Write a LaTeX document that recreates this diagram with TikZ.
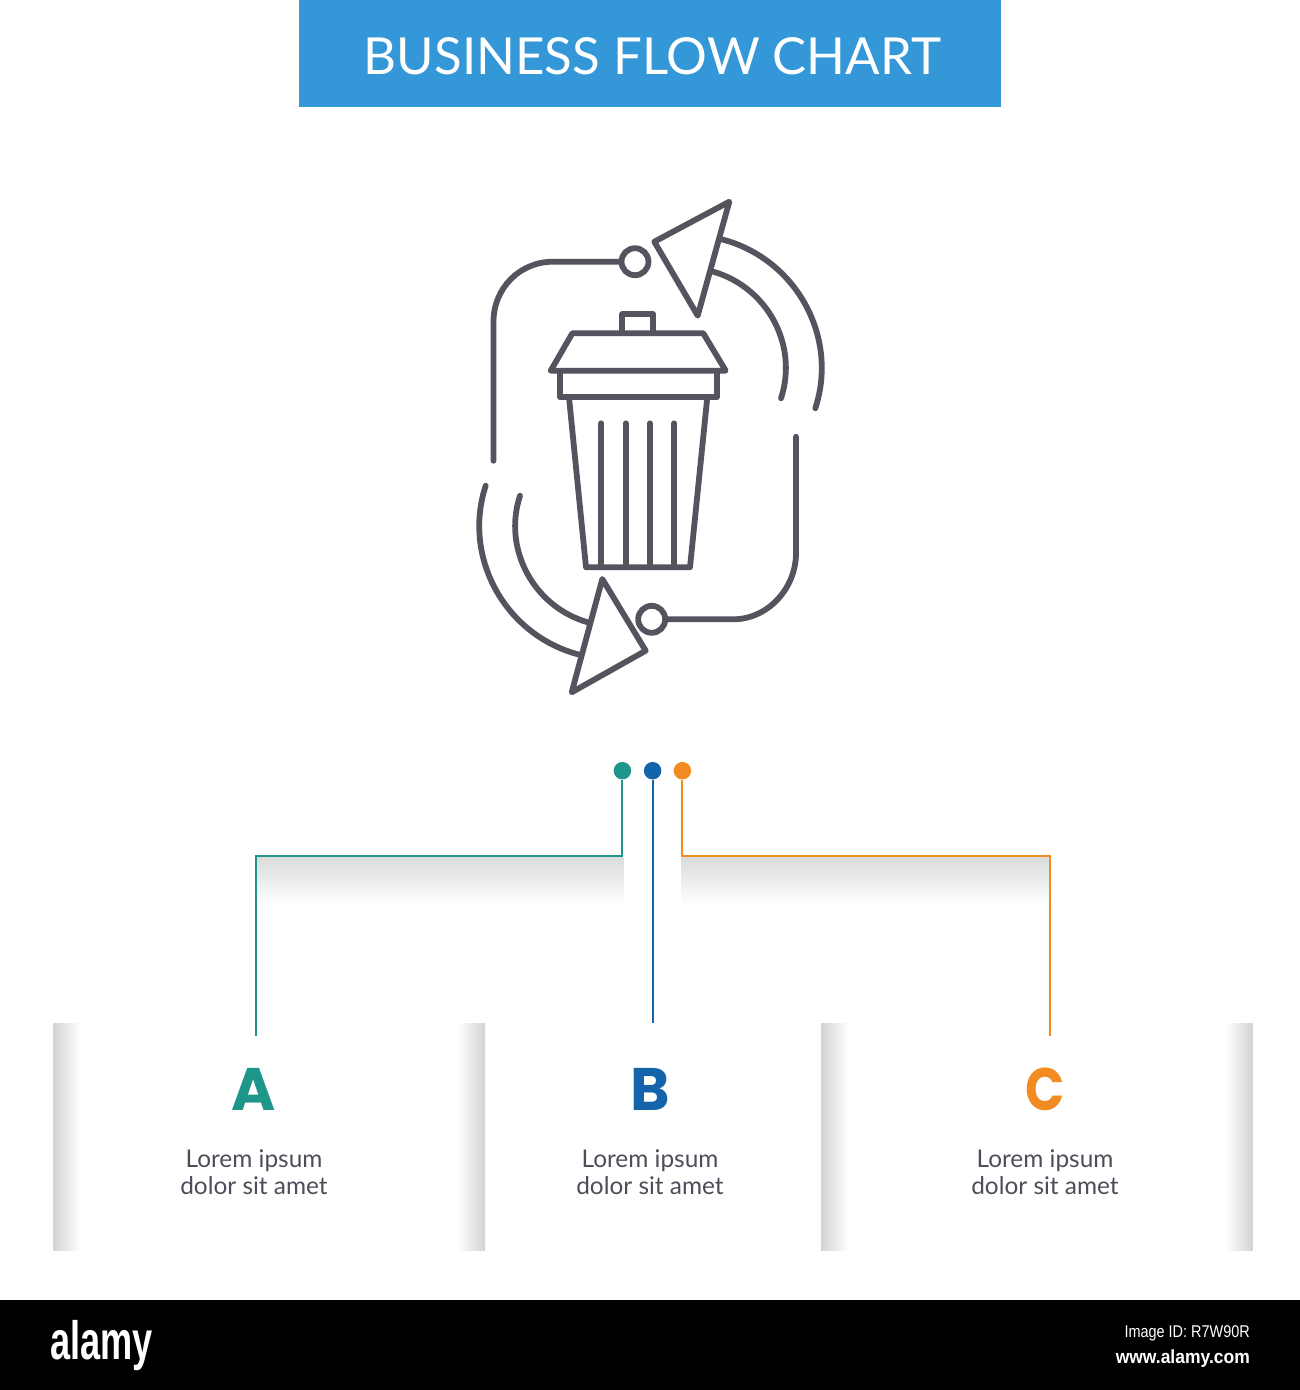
\documentclass[tikz,border=0pt]{standalone}
\usepackage{fontspec}
\setmainfont{Lato}
\newfontfamily\liberation{Liberation Sans}
\newfontfamily\poppins{Poppins}
\definecolor{iconc}{HTML}{56535F}
\definecolor{textc}{HTML}{4F4D59}
\definecolor{tealc}{HTML}{1F968A}
\definecolor{bluec}{HTML}{1464AC}
\definecolor{orangec}{HTML}{F28C22}
\definecolor{bannerc}{HTML}{3498D8}
\definecolor{edgec}{HTML}{D2D3D5}
\definecolor{shadowc}{HTML}{DADCDC}
\tikzset{
  icon/.style={draw=iconc,line width=5.8pt,line cap=round,line join=round},
  ring/.style={circle,draw=iconc,line width=5.8pt,minimum size=27pt,inner sep=0pt,fill=white},
  wire/.style={line width=2.1pt,line join=miter},
  pin/.style={circle,minimum size=17.5pt,inner sep=0pt},
  heading/.style={font=\fontsize{51}{51}\selectfont,text=white,anchor=base},
  letter/.style={font=\poppins\bfseries\fontsize{60}{60}\selectfont,anchor=base},
  body/.style={font=\fontsize{24.4}{24.4}\selectfont,text=textc,anchor=base},
}
\begin{document}
\begin{tikzpicture}[x=1pt,y=-1pt]
\useasboundingbox (0,0) rectangle (1300,1390);
\fill[white] (0,0) rectangle (1300,1390);
% banner
\fill[bannerc] (299,0) rectangle (1001,107);
\node[heading] (title) at (652.5,74) {BUSINESS FLOW CHART};
% icon: bin
\draw[icon] (622.3,333.3) -- (622.3,314.3) -- (653.3,314.3) -- (653.3,333.3);
\draw[icon] (572.3,333.3) -- (703.3,333.3) -- (725.7,370.7) -- (550.7,370.7) -- cycle;
\draw[icon] (560,370.7) -- (560,397.3) -- (716.7,397.3) -- (716.7,370.7);
\draw[icon] (569,397.3) -- (586,567.3) -- (690,567.3) -- (707.3,397.3);
\draw[icon] (601.3,423.3) -- (601.3,567.3);
\draw[icon] (625.7,423.3) -- (625.7,567.3);
\draw[icon] (650,423.3) -- (650,567.3);
\draw[icon] (674.3,423.3) -- (674.3,567.3);
% icon: top arrow
\node[ring] (ringT) at (635,261.7) {};
\draw[icon] (ringT.west) -- (553,261.7) .. controls (520,261.7) and (493.5,288) .. (493.5,321.7) -- (493.5,460.7);
\draw[icon] (729.3,201.7) -- (654.3,241.7) -- (697.7,315.7) -- cycle;
\draw[icon] (721.7,239.3) .. controls (795.3,258.3) and (839,336.1) .. (815.3,408.3);
\draw[icon] (713.3,271.7) .. controls (767.3,287.3) and (798.5,344.9) .. (781,398.3);
% icon: bottom arrow
\node[ring] (ringB) at (651.7,619.3) {};
\draw[icon] (ringB.east) -- (733.3,619.3) .. controls (768,619.3) and (796,588) .. (796,553.3) -- (796,436.7);
\draw[icon] (602.3,579) -- (645.7,650.7) -- (571.7,692.3) -- cycle;
\draw[icon] (485.7,485.7) .. controls (462,557.9) and (505.7,635.7) .. (579.3,654.7);
\draw[icon] (520,495.7) .. controls (502.5,549.1) and (533.7,606.7) .. (587.7,622.3);
% shadows under the wires
\shade[top color=shadowc,bottom color=white] (256.5,857) rectangle (623.5,906);
\shade[top color=shadowc,bottom color=white] (681.5,857) rectangle (1048.5,906);
% panel edges
\shade[left color=edgec,right color=white] (53.3,1023.3) rectangle (80,1250);
\shade[left color=white,right color=edgec] (457,1023.3) rectangle (485,1250);
\shade[left color=edgec,right color=white] (821,1023.3) rectangle (848,1250);
\shade[left color=white,right color=edgec] (1225,1023.3) rectangle (1252.5,1250);
% pins and wires
\node[pin,fill=tealc] (pinA) at (622.4,770.7) {};
\node[pin,fill=bluec] (pinB) at (652.6,770.7) {};
\node[pin,fill=orangec] (pinC) at (682.4,770.7) {};
\coordinate (endA) at (255.6,1036);
\coordinate (endB) at (652.6,1023);
\coordinate (endC) at (1049.6,1036);
\coordinate (kneeA) at (622.4,855.7);
\coordinate (kneeC) at (682.4,855.7);
\draw[wire,tealc] (pinA.south) -- (kneeA) -- (endA |- kneeA) -- (endA);
\draw[wire,bluec] (pinB.south) -- (endB);
\draw[wire,orangec] (pinC.south) -- (kneeC) -- (endC |- kneeC) -- (endC);
% labels
\node[letter,text=tealc] (la) at (254,1110) {A};
\node[letter,text=bluec] (lb) at (650.5,1110) {B};
\node[letter,text=orangec,xscale=0.86] (lc) at (1045,1110) {C};
\node[body] (t1a) at (254,1167) {Lorem ipsum};
\node[body] (t2a) at (254,1194) {dolor sit amet};
\node[body] (t1b) at (650,1167) {Lorem ipsum};
\node[body] (t2b) at (650,1194) {dolor sit amet};
\node[body] (t1c) at (1045,1167) {Lorem ipsum};
\node[body] (t2c) at (1045,1194) {dolor sit amet};
% footer
\fill[black] (0,1300) rectangle (1300,1390);
\node[anchor=base west,inner sep=0pt,text=white,font=\liberation\bfseries\fontsize{54}{54}\selectfont,xscale=0.67] (brand) at (50,1359) {alamy};
\node[anchor=base east,inner sep=0pt,text=white,font=\liberation\fontsize{17}{17}\selectfont,xscale=0.85] (imgid) at (1250,1337) {Image ID: R7W90R};
\node[anchor=base east,inner sep=0pt,text=white,font=\liberation\bfseries\fontsize{19}{19}\selectfont,xscale=0.92] (site) at (1250,1363) {www.alamy.com};
\end{tikzpicture}
\end{document}
